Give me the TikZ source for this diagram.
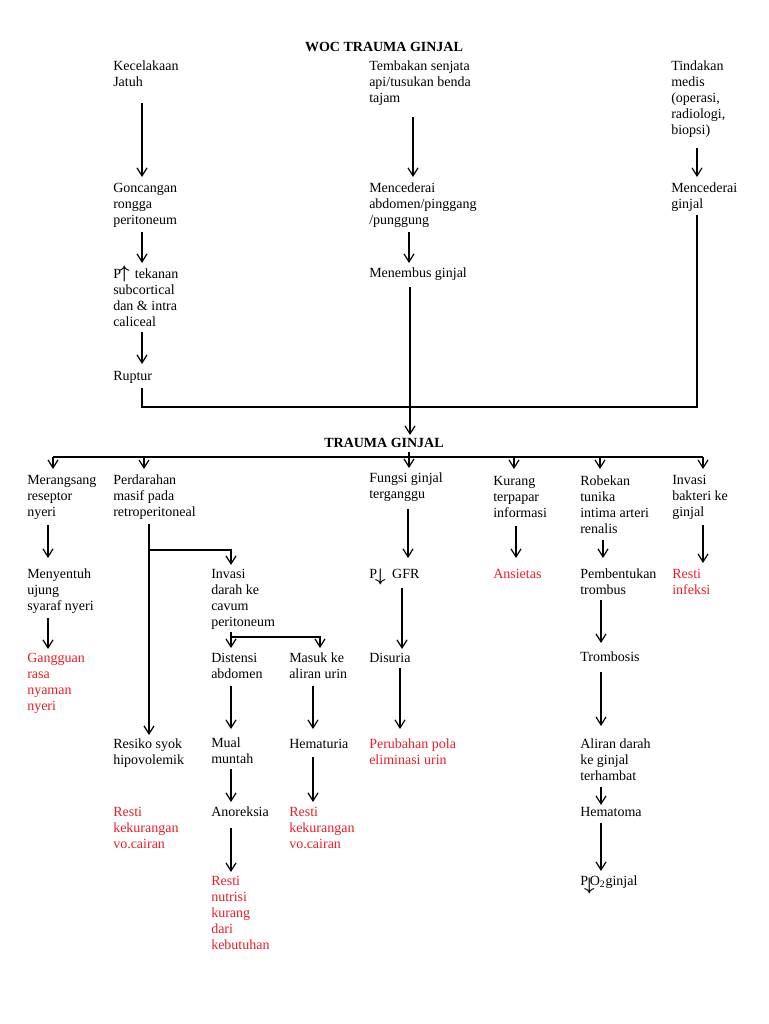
\documentclass[tikz,border=0pt]{standalone}
\usepackage{amsmath}
\usepackage{fontspec}
\setmainfont{Liberation Serif}
\usetikzlibrary{arrows.meta}
\definecolor{ired}{RGB}{235,30,40}
\begin{document}
\begin{tikzpicture}[x=0.75pt,y=-0.75pt,
  txt/.style={anchor=north west,align=left,inner sep=0pt,font=\fontsize{10.5}{12}\selectfont},
  redtxt/.style={txt,text=ired},
  ttl/.style={anchor=center,inner sep=0pt,font=\fontsize{10.5}{12}\selectfont\bfseries},
  arr/.style={draw,line width=0.9pt,-{Straight Barb[length=6pt,width=7.5pt,line width=0.9pt]}},
  ln/.style={draw,line width=0.9pt}]
\useasboundingbox (0,0) rectangle (768,1024);
\fill[white] (0,0) rectangle (768,1024);

% ---- top part
\node[ttl] (title) at (384,47) {WOC TRAUMA GINJAL};
\node[txt] (kec) at (113,59) {\strut Kecelakaan\\Jatuh};
\node[txt] (tem) at (369,59) {\strut Tembakan senjata\\api/tusukan benda\\tajam};
\node[txt] (tin) at (671,59) {\strut Tindakan\\medis\\(operasi,\\radiologi,\\biopsi)};
\node[txt] (gon) at (113,181) {\strut Goncangan\\rongga\\peritoneum};
\node[txt] (men1) at (369,181) {\strut Mencederai\\abdomen/pinggang\\/punggung};
\node[txt] (men2) at (671,181) {\strut Mencederai\\ginjal};
\node[txt] (tek) at (113,266) {\strut P\kern-1.5pt\scalebox{1.25}{$\boldsymbol{\uparrow}$}\hspace{4pt}tekanan\\subcortical\\dan \& intra\\caliceal};
\node[txt] (menb) at (369,266) {\strut Menembus ginjal};
\node[txt] (rup) at (113,369) {\strut Ruptur};
\node[ttl] (trauma) at (384,443) {TRAUMA GINJAL};

% ---- row 2
\node[txt] (mer) at (27,473) {\strut Merangsang\\reseptor\\nyeri};
\node[txt] (per) at (113,473) {\strut Perdarahan\\masif pada\\retroperitoneal};
\node[txt] (fun) at (369,471) {\strut Fungsi ginjal\\terganggu};
\node[txt] (kur) at (493,474) {\strut Kurang\\terpapar\\informasi};
\node[txt] (rob) at (580,474) {\strut Robekan\\tunika\\intima arteri\\renalis};
\node[txt] (inv) at (672,473) {\strut Invasi\\bakteri ke\\ginjal};

% ---- row 3
\node[txt] (meny) at (27,567) {\strut Menyentuh\\ujung\\syaraf nyeri};
\node[txt] (invd) at (211,567) {\strut Invasi\\darah ke\\cavum\\peritoneum};
\node[txt] (gfr) at (369,567) {\strut P\kern-1.5pt\raisebox{-2pt}{\scalebox{1.25}{$\boldsymbol{\downarrow}$}}\hspace{5pt}GFR};
\node[redtxt] (ans) at (493,567) {\strut Ansietas};
\node[txt] (pem) at (580,567) {\strut Pembentukan\\trombus};
\node[redtxt] (rinf) at (672,567) {\strut Resti\\infeksi};

% ---- row 4
\node[redtxt] (gang) at (27,651) {\strut Gangguan\\rasa\\nyaman\\nyeri};
\node[txt] (dis) at (211,651) {\strut Distensi\\abdomen};
\node[txt] (mas) at (289,651) {\strut Masuk ke\\aliran urin};
\node[txt] (disu) at (369,651) {\strut Disuria};
\node[txt] (trom) at (580,650) {\strut Trombosis};

% ---- row 5
\node[txt] (res) at (113,737) {\strut Resiko syok\\hipovolemik};
\node[txt] (mual) at (211,736) {\strut Mual\\muntah};
\node[txt] (hema) at (289,737) {\strut Hematuria};
\node[redtxt] (perp) at (369,737) {\strut Perubahan pola\\eliminasi urin};
\node[txt] (alir) at (580,737) {\strut Aliran darah\\ke ginjal\\terhambat};

% ---- row 6
\node[redtxt] (rk1) at (113,805) {\strut Resti\\kekurangan\\vo.cairan};
\node[txt] (ano) at (211,805) {\strut Anoreksia};
\node[redtxt] (rk2) at (289,805) {\strut Resti\\kekurangan\\vo.cairan};
\node[txt] (htm) at (580,805) {\strut Hematoma};

% ---- row 7
\node[redtxt] (rnut) at (211,874) {\strut Resti\\nutrisi\\kurang\\dari\\kebutuhan};
\node[txt] (po2) at (580,874) {\strut P\kern-3pt\raisebox{-4pt}{\scalebox{1.25}{$\boldsymbol{\downarrow}$}}\kern-3.5pt O\textsubscript{2}ginjal};

% ---- connectors, top part
\draw[arr] ([shift={(29,44)}]kec.north west) -- ([shift={(29,-4)}]gon.north west);
\draw[arr] ([shift={(44,58)}]tem.north west) -- ([shift={(44,-4)}]men1.north west);
\draw[arr] ([shift={(26,89)}]tin.north west) -- ([shift={(26,-4)}]men2.north west);
\draw[arr] ([shift={(29,51)}]gon.north west) -- ([shift={(29,-3)}]tek.north west);
\draw[arr] ([shift={(40,51)}]men1.north west) -- ([shift={(40,-3)}]menb.north west);
\draw[arr] ([shift={(29,66)}]tek.north west) -- ([shift={(29,-5)}]rup.north west);
\draw[ln] ([shift={(29,19)}]rup.north west) |- ([shift={(26,226)}]men2.north west) -- ([shift={(26,34)}]men2.north west);
\draw[arr] ([shift={(41,21)}]menb.north west) -- ([shift={(26,-8)}]trauma.center);

% ---- trauma bar
\draw[ln] ([shift={(26,-16)}]mer.north west) -- ([shift={(31,-16)}]inv.north west);
\draw[arr] ([shift={(26,-16)}]mer.north west) -- ([shift={(26,-4)}]mer.north west);
\draw[arr] ([shift={(31,-16)}]per.north west) -- ([shift={(31,-4)}]per.north west);
\draw[arr] ([shift={(25,9)}]trauma.center) -- ([shift={(40,-3)}]fun.north west);
\draw[arr] ([shift={(21,-17)}]kur.north west) -- ([shift={(21,-5)}]kur.north west);
\draw[arr] ([shift={(20,-17)}]rob.north west) -- ([shift={(20,-5)}]rob.north west);
\draw[arr] ([shift={(31,-16)}]inv.north west) -- ([shift={(31,-4)}]inv.north west);

% ---- row 2 -> 3
\draw[arr] ([shift={(21,52)}]mer.north west) -- ([shift={(21,-9)}]meny.north west);
\draw[arr] ([shift={(36,51)}]per.north west) -- ([shift={(36,-2)}]res.north west);
\draw[arr] ([shift={(36,77)}]per.north west) -| ([shift={(20,-2)}]invd.north west);
\draw[arr] ([shift={(39,38)}]fun.north west) -- ([shift={(39,-9)}]gfr.north west);
\draw[arr] ([shift={(23,52)}]kur.north west) -- ([shift={(23,-9)}]ans.north west);
\draw[arr] ([shift={(23,66)}]rob.north west) -- ([shift={(23,-9)}]pem.north west);
\draw[arr] ([shift={(31,52)}]inv.north west) -- ([shift={(31,-4)}]rinf.north west);

% ---- row 3 -> 4
\draw[arr] ([shift={(21,51)}]meny.north west) -- ([shift={(21,-2)}]gang.north west);
\draw[arr] ([shift={(20,65)}]invd.north west) -- ([shift={(20,-3)}]dis.north west);
\draw[arr] ([shift={(20,70)}]invd.north west) -| ([shift={(31,-3)}]mas.north west);
\draw[arr] ([shift={(33,21)}]gfr.north west) -- ([shift={(33,-2)}]disu.north west);
\draw[arr] ([shift={(21,33)}]pem.north west) -- ([shift={(21,-7)}]trom.north west);

% ---- row 4 -> 5
\draw[arr] ([shift={(20,35)}]dis.north west) -- ([shift={(20,-7)}]mual.north west);
\draw[arr] ([shift={(24,35)}]mas.north west) -- ([shift={(24,-8)}]hema.north west);
\draw[arr] ([shift={(31,17)}]disu.north west) -- ([shift={(31,-8)}]perp.north west);
\draw[arr] ([shift={(21,22)}]trom.north west) -- ([shift={(21,-11)}]alir.north west);

% ---- row 5 -> 6
\draw[arr] ([shift={(20,33)}]mual.north west) -- ([shift={(20,-3)}]ano.north west);
\draw[arr] ([shift={(24,20)}]hema.north west) -- ([shift={(24,-3)}]rk2.north west);
\draw[arr] ([shift={(21,50)}]alir.north west) -- ([shift={(21,0)}]htm.north west);

% ---- row 6 -> 7
\draw[arr] ([shift={(20,23)}]ano.north west) -- ([shift={(20,-2)}]rnut.north west);
\draw[arr] ([shift={(21,18)}]htm.north west) -- ([shift={(21,-3)}]po2.north west);
\end{tikzpicture}
\end{document}
